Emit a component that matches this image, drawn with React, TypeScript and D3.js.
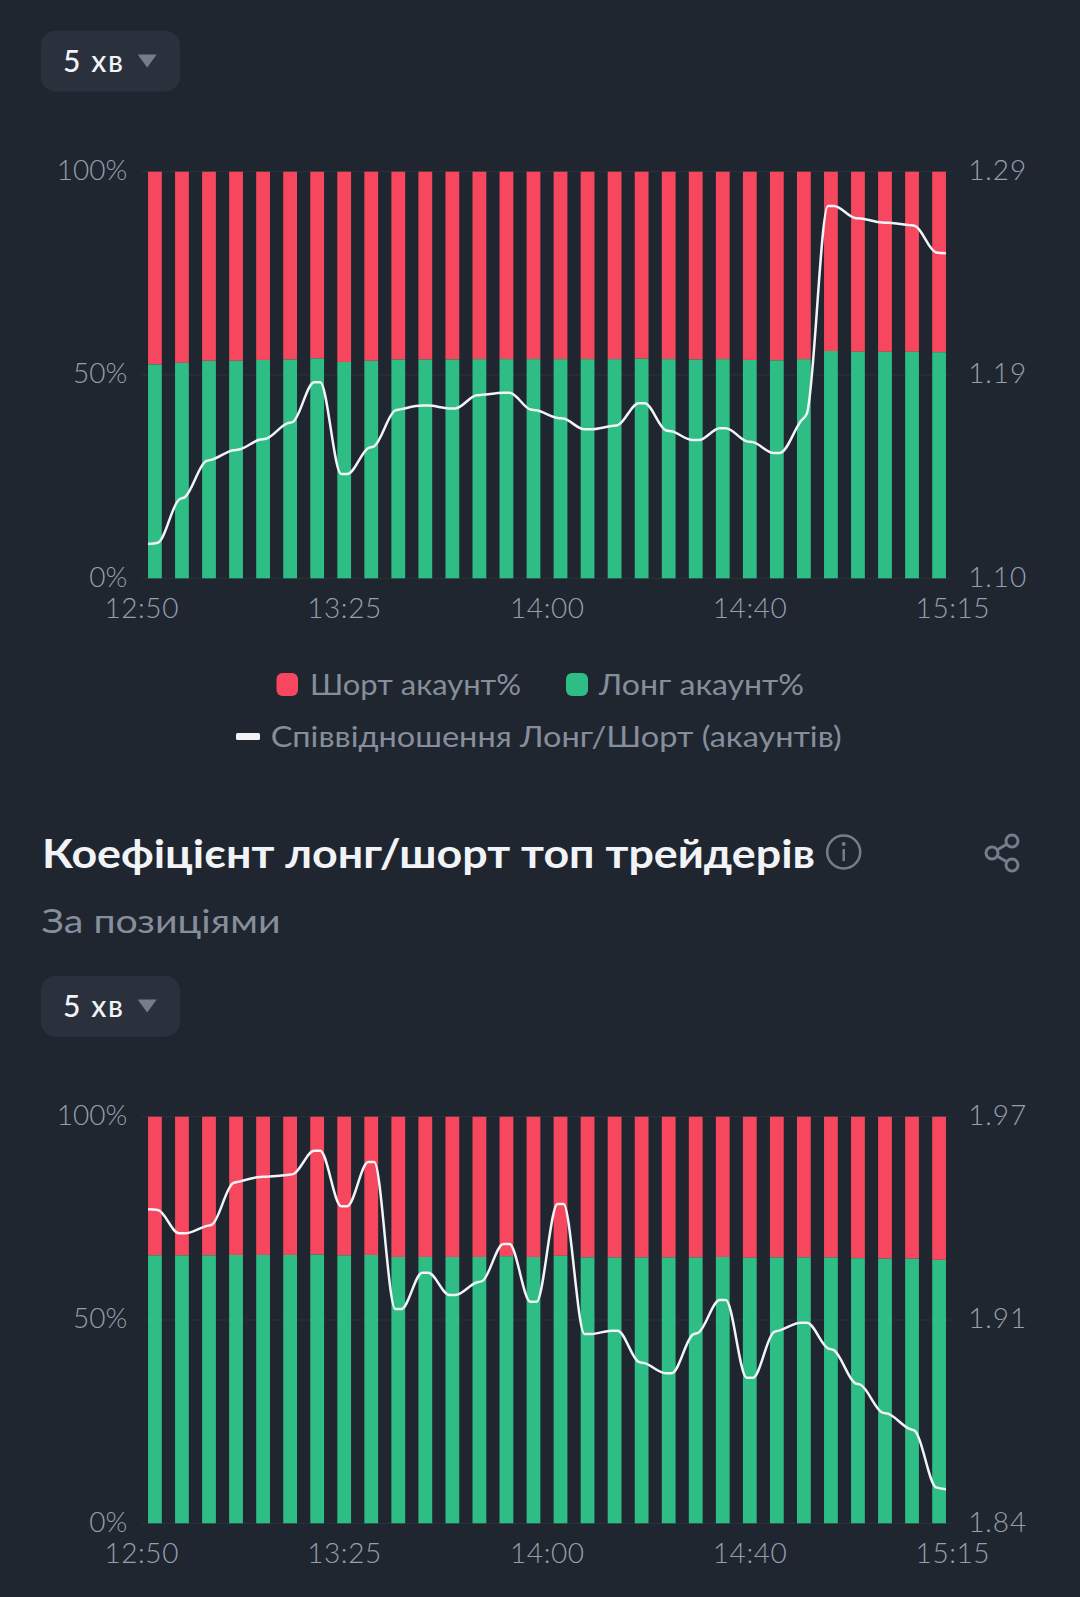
import React from "react";
import * as d3 from "d3";

const times = d3.range(30).map((i) => {
  const m = 12 * 60 + 50 + i * 5;
  return `${Math.floor(m / 60)}:${String(m % 60).padStart(2, "0")}`;
});
const xTickLabels = ["12:50", "13:25", "14:00", "14:40", "15:15"];
const pctTicks = [0, 50, 100];

const longAccounts = [52.6, 53.0, 53.5, 53.5, 53.7, 53.8, 54.1, 53.2, 53.5, 53.8, 53.8, 53.8, 53.9, 53.9, 53.9, 53.9, 53.9, 53.9, 54.0, 53.9, 53.8, 53.9, 53.7, 53.6, 53.9, 55.9, 55.7, 55.7, 55.7, 55.6];
const ratioAccounts = [1.116, 1.1374, 1.1553, 1.16, 1.165, 1.1726, 1.1916, 1.1487, 1.1612, 1.179, 1.1807, 1.1794, 1.1857, 1.1867, 1.1786, 1.1748, 1.1696, 1.1712, 1.1818, 1.1688, 1.1646, 1.1701, 1.1638, 1.1586, 1.174, 1.274, 1.2682, 1.2662, 1.265, 1.2519];
const ratioDomainA: [number, number] = [1.1, 1.29];
const ratioLabelsA = ["1.10", "1.19", "1.29"];

const longPositions = [65.9, 65.9, 65.9, 66.0, 66.0, 66.0, 66.1, 65.9, 66.0, 65.5, 65.5, 65.5, 65.5, 65.7, 65.5, 65.8, 65.4, 65.4, 65.4, 65.4, 65.4, 65.5, 65.3, 65.4, 65.4, 65.4, 65.2, 65.1, 65.1, 64.8];
const ratioPositions = [1.9404, 1.9327, 1.9351, 1.9492, 1.9508, 1.9514, 1.9591, 1.9414, 1.9555, 1.9085, 1.9201, 1.913, 1.9171, 1.9293, 1.9108, 1.9421, 1.9005, 1.9016, 1.8913, 1.888, 1.9007, 1.9114, 1.8865, 1.9016, 1.9041, 1.8957, 1.8845, 1.8752, 1.8701, 1.8509];
const ratioDomainB: [number, number] = [1.84, 1.97];
const ratioLabelsB = ["1.84", "1.91", "1.97"];

const BG = "#1f2630";
const RED = "#f6475f";
const GREEN = "#2ebd85";
const AXIS = "#868e9b";
const TICK = "#979ead";
const GRID = "#2b323d";
const CHIP = "#2a313d";
const ICON = "#747d8c";
const WHITE = "#f1f3f6";
const FONT = "Lato, 'Open Sans', sans-serif";
const X0 = 141.4;
const X1 = 952.6;
const PLOT_H = 406.6;

function Panel({ top, long, ratio, domain, labels }: { top: number; long: number[]; ratio: number[]; domain: [number, number]; labels: string[] }) {
  const x = d3.scaleBand<string>().domain(times).range([X0, X1]).paddingInner(0.49).paddingOuter(0.245);
  const y = d3.scaleLinear().domain([0, 100]).range([top + PLOT_H, top]);
  const yr = d3.scaleLinear().domain(domain).range([top + PLOT_H, top]);
  const xt = d3.scalePoint<string>().domain(xTickLabels).range([X0, X1]);
  const bw = x.bandwidth();
  const inset = 3;
  const pts: [number, number][] = [];
  ratio.forEach((v, i) => {
    const l = i > 0 ? ratio[i - 1] : v;
    const r = i < ratio.length - 1 ? ratio[i + 1] : v;
    const extremum = (l - v) * (r - v) > 0;
    const k = extremum ? 0 : 0.03;
    const cx = x(times[i])! + bw / 2;
    pts.push([i === 0 ? cx - bw / 2 : cx - inset, yr(v + k * (l - v))]);
    pts.push([i === ratio.length - 1 ? cx + bw / 2 : cx + inset, yr(v + k * (r - v))]);
  });
  const path = d3.line().curve(d3.curveMonotoneX)(pts)!;
  return (
    <g>
      {pctTicks.map((t) => (
        <line key={t} x1={X0} x2={X1 - 1} y1={y(t)} y2={y(t)} stroke={GRID} strokeWidth={1} />
      ))}
      {times.map((t, i) => (
        <g key={t}>
          <rect x={x(t)} y={y(100)} width={bw} height={y(long[i]) - y(100)} fill={RED} />
          <rect x={x(t)} y={y(long[i])} width={bw} height={y(0) - y(long[i])} fill={GREEN} />
        </g>
      ))}
      <path d={path} fill="none" stroke={WHITE} strokeWidth={2.5} strokeLinejoin="round" />
      {pctTicks.map((t) => (
        <text key={t} x={127.4} y={y(t) + 8.2} textAnchor="end" fontSize={28} fontWeight={300} fill={TICK} fontFamily={FONT}>
          {t}%
        </text>
      ))}
      {labels.map((l, i) => (
        <text key={l} x={968.2} y={yr(domain[0] + ((domain[1] - domain[0]) * i) / 2) + 8.2} fontSize={28} fontWeight={300} fill={TICK} fontFamily={FONT} textLength={58} lengthAdjust="spacing">
          {l}
        </text>
      ))}
      {xTickLabels.map((l) => (
        <text key={l} x={xt(l)! - 37} y={top + PLOT_H + 40} fontSize={28} fontWeight={300} fill={TICK} fontFamily={FONT} textLength={74} lengthAdjust="spacing">
          {l}
        </text>
      ))}
    </g>
  );
}

function Chip({ top }: { top: number }) {
  return (
    <g>
      <rect x={41} y={top} width={139} height={61} rx={15} fill={CHIP} />
      <text x={63} y={top + 41} fontSize={30} fontWeight={500} fill={WHITE} fontFamily={FONT} textLength={60} lengthAdjust="spacing">
        5 хв
      </text>
      <path d={`M137.7 ${top + 23.7}H156.7L147.2 ${top + 36.7}Z`} fill={ICON} />
    </g>
  );
}

export default function App() {
  return (
    <svg width={1080} height={1597} viewBox="0 0 1080 1597" style={{ position: "absolute", left: 0, top: 0, display: "block", background: BG }}>
      <rect width={1080} height={1597} fill={BG} />
      <Chip top={30.7} />
      <Panel top={171.7} long={longAccounts} ratio={ratioAccounts} domain={ratioDomainA} labels={ratioLabelsA} />

      <rect x={276.5} y={673} width={21.5} height={23} rx={6} fill={RED} />
      <text x={310} y={695} fontSize={28} fill={AXIS} fontFamily={FONT} textLength={211} lengthAdjust="spacingAndGlyphs">Шорт акаунт%</text>
      <rect x={566} y={673} width={22} height={23} rx={6} fill={GREEN} />
      <text x={599} y={695} fontSize={28} fill={AXIS} fontFamily={FONT} textLength={205} lengthAdjust="spacingAndGlyphs">Лонг акаунт%</text>
      <rect x={236} y={733} width={24} height={7} rx={1.5} fill={WHITE} />
      <text x={270.7} y={747} fontSize={28} fill={AXIS} fontFamily={FONT} textLength={571} lengthAdjust="spacingAndGlyphs">Співвідношення Лонг/Шорт (акаунтів)</text>

      <text x={42} y={868} fontSize={41} fontWeight={700} fill={WHITE} fontFamily={FONT} textLength={773} lengthAdjust="spacingAndGlyphs">Коефіцієнт лонг/шорт топ трейдерів</text>
      <circle cx={843.7} cy={852} r={16.5} fill="none" stroke={ICON} strokeWidth={2.5} />
      <circle cx={843.7} cy={844} r={2} fill={ICON} />
      <line x1={843.7} x2={843.7} y1={849} y2={861} stroke={ICON} strokeWidth={2.5} />
      <g fill="none" stroke={ICON} strokeWidth={3}>
        <line x1={1012} y1={841} x2={992} y2={853} />
        <line x1={992} y1={853} x2={1012} y2={865} />
        <circle cx={1012} cy={841} r={6} fill={BG} />
        <circle cx={992} cy={853} r={6} fill={BG} />
        <circle cx={1012} cy={865} r={6} fill={BG} />
      </g>
      <text x={41.5} y={933} fontSize={33} fill={AXIS} fontFamily={FONT} textLength={239} lengthAdjust="spacingAndGlyphs">За позиціями</text>

      <Chip top={975.7} />
      <Panel top={1116.7} long={longPositions} ratio={ratioPositions} domain={ratioDomainB} labels={ratioLabelsB} />
    </svg>
  );
}
